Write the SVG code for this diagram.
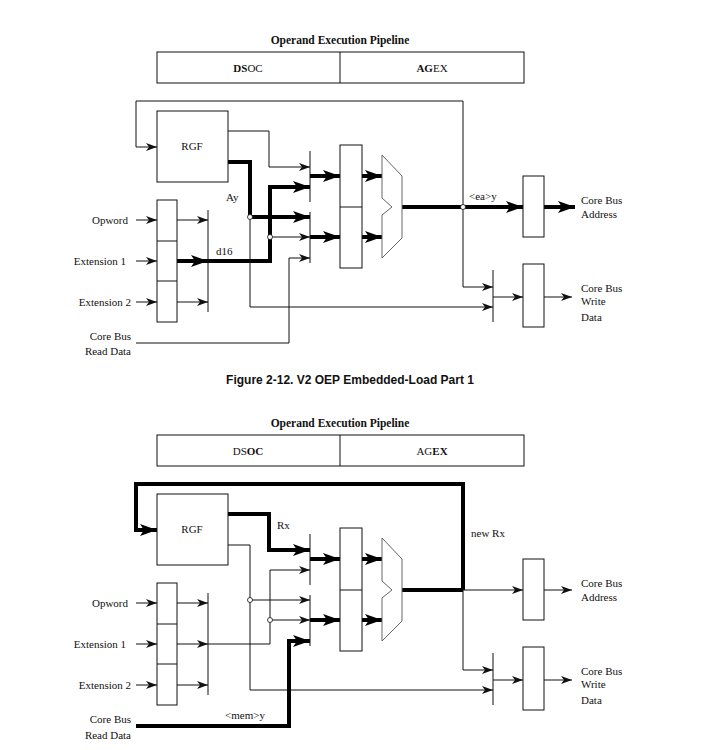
<svg xmlns="http://www.w3.org/2000/svg" width="701" height="750" viewBox="0 0 701 750">
<style>
text{font-family:"Liberation Serif",serif;font-size:11px;fill:#111}
.hd{font-weight:bold;font-size:11.5px}
.cap{font-family:"Liberation Sans",sans-serif;font-weight:bold;font-size:12px}
.r{text-anchor:end}
.m{text-anchor:middle}
.box{fill:#fff;stroke:#111;stroke-width:1}
.w{fill:none;stroke:#111;stroke-width:1}
.t{fill:none;stroke:#000;stroke-width:4}
.a{marker-end:url(#ah)}
.ta{marker-end:url(#th)}
.dot{fill:#fff;stroke:#111;stroke-width:0.8}
.alu{fill:#fff;stroke:#666;stroke-width:1}
</style>
<defs>
<marker id="ah" markerUnits="userSpaceOnUse" markerWidth="12" markerHeight="8" refX="11" refY="4" orient="auto"><path d="M0,0 L11,4 L0,8 L3,4 Z" fill="#111"/></marker>
<marker id="th" markerUnits="userSpaceOnUse" markerWidth="18" markerHeight="12" refX="17" refY="6" orient="auto"><path d="M0,0 L17,6 L0,12 L4,6 Z" fill="#000"/></marker>
</defs>

<!-- ===== Figure 1 ===== -->
<g id="hdr1">
<text class="hd m" x="340" y="44">Operand Execution Pipeline</text>
<rect class="box" x="157" y="52" width="367" height="31"/>
<line class="w" x1="340" y1="52" x2="340" y2="83"/>
<text class="m" x="248" y="72"><tspan font-weight="bold">DS</tspan>OC</text>
<text class="m" x="432" y="72"><tspan font-weight="bold">AG</tspan>EX</text>
</g>
<g id="conn1">
<polyline class="w a" points="463,207 463,101 136,101 136,147 157,147"/>
<polyline class="w a" points="228,131 269,131 269,167 310,167"/>
<polyline class="t" points="226,162 250,162 250,217"/>
<line class="t ta" x1="250" y1="217" x2="310" y2="217"/>
<line class="t ta" x1="177" y1="261" x2="208" y2="261"/>
<polyline class="t ta" points="208,261 270,261 270,187 310,187"/>
<line class="w a" x1="270" y1="237" x2="310" y2="237"/>
<polyline class="w a" points="250,217 250,307 493,307"/>
<polyline class="w a" points="136,343 289,343 289,258 310,258"/>
<line class="w a" x1="136" y1="220" x2="157" y2="220"/>
<line class="w a" x1="136" y1="261" x2="157" y2="261"/>
<line class="w a" x1="136" y1="302" x2="157" y2="302"/>
<line class="w a" x1="177" y1="220" x2="208" y2="220"/>
<line class="w a" x1="177" y1="302" x2="208" y2="302"/>
<line class="t ta" x1="310" y1="176" x2="340" y2="176"/>
<line class="t ta" x1="310" y1="237" x2="340" y2="237"/>
<line class="t ta" x1="362" y1="176" x2="382" y2="176"/>
<line class="t ta" x1="362" y1="237" x2="382" y2="237"/>
<line class="t ta" x1="402" y1="207" x2="523" y2="207"/>
<line class="t ta" x1="544" y1="207" x2="575" y2="207"/>
<polyline class="w a" points="463,207 463,287 493,287"/>
<line class="w a" x1="493" y1="297" x2="523" y2="297"/>
<line class="w a" x1="544" y1="297" x2="572" y2="297"/>
<line class="w" x1="208" y1="210" x2="208" y2="312"/>
<line class="w" x1="310" y1="151" x2="310" y2="202"/>
<line class="w" x1="310" y1="212" x2="310" y2="263"/>
<line class="w" x1="493" y1="270" x2="493" y2="322"/>
<circle class="dot" cx="250" cy="217" r="2.5"/>
<circle class="dot" cx="270" cy="237" r="2.5"/>
<circle class="dot" cx="463" cy="207" r="2.5"/>
</g>
<g id="rgf1"><rect class="box" x="157" y="111" width="71" height="71"/><text class="m" x="192" y="150">RGF</text></g>
<g id="ext1"><rect class="box" x="157" y="200" width="20" height="122"/><line class="w" x1="157" y1="241" x2="177" y2="241"/><line class="w" x1="157" y1="281" x2="177" y2="281"/></g>
<g id="reg1"><rect class="box" x="340" y="145" width="22" height="123"/><line class="w" x1="340" y1="207" x2="362" y2="207"/></g>
<g id="alu1"><polygon class="alu" points="382,155 402,176 402,238 382,258 382,215 392,207 382,198"/></g>
<g id="addr1"><rect class="box" x="523" y="176" width="21" height="61"/></g>
<g id="wd1"><rect class="box" x="523" y="264" width="21" height="63"/></g>
<g id="labels1">
<text class="r" x="128" y="224">Opword</text>
<text class="r" x="126" y="265">Extension 1</text>
<text class="r" x="131" y="306">Extension 2</text>
<text class="r" x="131" y="340">Core Bus</text>
<text class="r" x="131" y="355">Read Data</text>
<text x="226" y="201">Ay</text>
<text x="216" y="255">d16</text>
<text x="469" y="200" font-size="10">&lt;ea&gt;y</text>
<text x="581" y="204">Core Bus</text>
<text x="581" y="218">Address</text>
<text x="581" y="292">Core Bus</text>
<text x="581" y="305">Write</text>
<text x="581" y="321">Data</text>
</g>
<text class="cap m" x="350" y="384">Figure 2-12. V2 OEP Embedded-Load Part 1</text>

<!-- ===== Figure 2 ===== -->
<g id="hdr2" transform="translate(0,383)">
<text class="hd m" x="340" y="44">Operand Execution Pipeline</text>
<rect class="box" x="157" y="52" width="367" height="31"/>
<line class="w" x1="340" y1="52" x2="340" y2="83"/>
<text class="m" x="248" y="72">DS<tspan font-weight="bold">OC</tspan></text>
<text class="m" x="432" y="72">AG<tspan font-weight="bold">EX</tspan></text>
</g>
<g id="conn2" transform="translate(0,383)">
<polyline class="t ta" points="463,207 463,101 136,101 136,147 157,147"/>
<polyline class="t ta" points="226,131 269,131 269,167 310,167"/>
<polyline class="w" points="228,162 250,162 250,217"/>
<line class="w a" x1="250" y1="217" x2="310" y2="217"/>
<line class="w a" x1="177" y1="261" x2="208" y2="261"/>
<polyline class="w a" points="208,261 270,261 270,187 310,187"/>
<line class="w a" x1="270" y1="237" x2="310" y2="237"/>
<polyline class="w a" points="250,217 250,307 493,307"/>
<polyline class="t ta" points="136,343 289,343 289,258 310,258"/>
<line class="w a" x1="136" y1="220" x2="157" y2="220"/>
<line class="w a" x1="136" y1="261" x2="157" y2="261"/>
<line class="w a" x1="136" y1="302" x2="157" y2="302"/>
<line class="w a" x1="177" y1="220" x2="208" y2="220"/>
<line class="w a" x1="177" y1="302" x2="208" y2="302"/>
<line class="t ta" x1="310" y1="176" x2="340" y2="176"/>
<line class="t ta" x1="310" y1="237" x2="340" y2="237"/>
<line class="t ta" x1="362" y1="176" x2="382" y2="176"/>
<line class="t ta" x1="362" y1="237" x2="382" y2="237"/>
<line class="t" x1="402" y1="207" x2="463" y2="207"/>
<line class="w a" x1="463" y1="207" x2="523" y2="207"/>
<line class="w a" x1="544" y1="207" x2="572" y2="207"/>
<polyline class="w a" points="463,207 463,287 493,287"/>
<line class="w a" x1="493" y1="297" x2="523" y2="297"/>
<line class="w a" x1="544" y1="297" x2="572" y2="297"/>
<line class="w" x1="208" y1="210" x2="208" y2="312"/>
<line class="w" x1="310" y1="151" x2="310" y2="202"/>
<line class="w" x1="310" y1="212" x2="310" y2="263"/>
<line class="w" x1="493" y1="270" x2="493" y2="322"/>
<circle class="dot" cx="250" cy="217" r="2.5"/>
<circle class="dot" cx="270" cy="237" r="2.5"/>
</g>
<g id="rgf2"><rect class="box" x="157" y="494" width="71" height="71"/><text class="m" x="192" y="533">RGF</text></g>
<g id="ext2"><rect class="box" x="157" y="583" width="20" height="122"/><line class="w" x1="157" y1="624" x2="177" y2="624"/><line class="w" x1="157" y1="664" x2="177" y2="664"/></g>
<g id="reg2"><rect class="box" x="340" y="528" width="22" height="123"/><line class="w" x1="340" y1="590" x2="362" y2="590"/></g>
<g id="alu2"><polygon class="alu" points="382,538 402,559 402,621 382,641 382,598 392,590 382,581"/></g>
<g id="addr2"><rect class="box" x="523" y="559" width="21" height="61"/></g>
<g id="wd2"><rect class="box" x="523" y="647" width="21" height="63"/></g>
<g id="labels2">
<text class="r" x="128" y="607">Opword</text>
<text class="r" x="126" y="648">Extension 1</text>
<text class="r" x="131" y="689">Extension 2</text>
<text class="r" x="131" y="723">Core Bus</text>
<text class="r" x="131" y="739">Read Data</text>
<text x="277" y="529">Rx</text>
<text x="225" y="719" font-size="10">&lt;mem&gt;y</text>
<text x="471" y="537">new Rx</text>
<text x="581" y="587">Core Bus</text>
<text x="581" y="601">Address</text>
<text x="581" y="675">Core Bus</text>
<text x="581" y="688">Write</text>
<text x="581" y="704">Data</text>
</g>
</svg>
